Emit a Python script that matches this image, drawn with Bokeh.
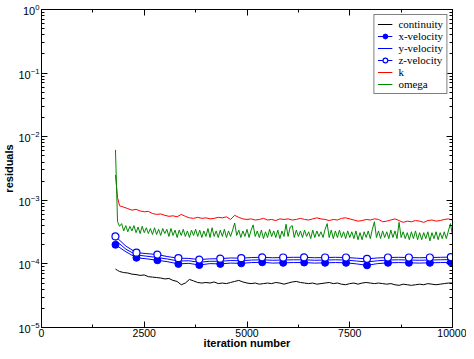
import numpy as np
from bokeh.plotting import figure
from bokeh.models import (LogAxis, LinearAxis, FixedTicker, Legend, LegendItem,
                          CustomJSTickFormatter, LogTickFormatter, Range1d)
from bokeh.embed import file_html
from bokeh.resources import INLINE

# ---------------- data ----------------
it_main = [1800, 1850, 1900] + list(range(2000, 10001, 100))
it_omega = list(range(1800, 10001, 50))
it_vel = list(range(1800, 9961, 255)) + [10000]

continuity = [
    8.3e-5, 7.9e-5, 7.6e-5,
    7.3e-5, 7.2e-5, 6.9e-5, 6.8e-5, 6.6e-5, 6.7e-5, 6.3e-5, 6.2e-5, 6.1e-5, 6.0e-5,
    5.8e-5, 5.9e-5, 5.5e-5, 5.3e-5, 4.7e-5, 5.0e-5, 5.7e-5, 5.4e-5, 5.1e-5, 5.0e-5,
    5.1e-5, 5.0e-5, 5.2e-5, 4.9e-5, 5.0e-5, 4.9e-5, 5.1e-5, 5.3e-5, 5.5e-5, 5.2e-5,
    5.0e-5, 4.9e-5, 5.0e-5, 4.8e-5, 4.9e-5, 5.0e-5, 4.9e-5, 5.1e-5, 5.0e-5, 4.8e-5,
    5.0e-5, 5.2e-5, 5.3e-5, 5.1e-5, 5.0e-5, 4.9e-5, 5.0e-5, 4.8e-5, 4.9e-5, 5.0e-5,
    5.1e-5, 4.9e-5, 5.0e-5, 4.8e-5, 4.7e-5, 4.9e-5, 5.0e-5, 4.8e-5, 5.0e-5, 5.1e-5,
    5.0e-5, 4.9e-5, 5.0e-5, 4.9e-5, 4.8e-5, 4.9e-5, 4.7e-5, 4.6e-5, 4.8e-5, 4.7e-5,
    4.6e-5, 4.7e-5, 4.8e-5, 4.7e-5, 4.9e-5, 4.8e-5, 4.7e-5, 4.8e-5, 4.9e-5, 5.0e-5,
    5.0e-5,
]

k_res = [
    2.5e-3, 1.1e-3, 8.2e-4,
    7.8e-4, 7.4e-4, 7.0e-4, 7.2e-4, 6.8e-4, 6.6e-4, 6.7e-4, 6.2e-4, 6.0e-4, 6.1e-4,
    5.8e-4, 5.6e-4, 5.7e-4, 5.5e-4, 6.0e-4, 5.6e-4, 5.3e-4, 5.2e-4, 5.4e-4, 5.2e-4,
    5.3e-4, 5.1e-4, 5.2e-4, 5.4e-4, 5.3e-4, 5.5e-4, 5.0e-4, 5.8e-4, 5.4e-4, 5.1e-4,
    5.0e-4, 5.1e-4, 4.9e-4, 5.0e-4, 5.2e-4, 4.9e-4, 5.0e-4, 4.8e-4, 5.1e-4, 5.0e-4,
    5.1e-4, 4.9e-4, 5.0e-4, 5.2e-4, 5.0e-4, 4.9e-4, 5.1e-4, 5.3e-4, 5.1e-4, 5.0e-4,
    4.8e-4, 5.0e-4, 4.9e-4, 5.2e-4, 5.3e-4, 5.1e-4, 4.9e-4, 4.7e-4, 4.8e-4, 5.0e-4,
    4.9e-4, 5.1e-4, 5.0e-4, 4.6e-4, 4.7e-4, 4.9e-4, 5.1e-4, 4.8e-4, 4.5e-4, 4.7e-4,
    4.6e-4, 4.8e-4, 4.7e-4, 4.5e-4, 4.8e-4, 4.9e-4, 4.7e-4, 4.8e-4, 5.0e-4, 5.1e-4,
    4.9e-4,
]

omega = [
    6.2e-3, 4.6e-4, 3.9e-4, 4.3e-4, 3.3e-4, 4.0e-4, 3.2e-4, 3.9e-4, 3.3e-4, 4.0e-4,
    3.1e-4, 3.8e-4, 3.0e-4, 3.9e-4, 3.1e-4, 3.7e-4, 3.0e-4, 3.6e-4, 2.9e-4, 3.7e-4,
    2.9e-4, 3.5e-4, 2.8e-4, 3.6e-4, 3.0e-4, 3.5e-4, 2.7e-4, 3.6e-4, 2.8e-4, 3.4e-4,
    2.6e-4, 3.4e-4, 2.8e-4, 3.5e-4, 2.7e-4, 3.3e-4, 2.6e-4, 3.4e-4, 2.8e-4, 3.5e-4,
    2.7e-4, 3.4e-4, 2.6e-4, 3.3e-4, 2.7e-4, 3.6e-4, 2.6e-4, 3.7e-4, 2.7e-4, 3.3e-4,
    2.6e-4, 3.4e-4, 2.7e-4, 3.5e-4, 2.6e-4, 3.3e-4, 2.7e-4, 3.4e-4, 4.4e-4, 2.8e-4,
    3.4e-4, 2.6e-4, 3.3e-4, 2.7e-4, 3.5e-4, 2.6e-4, 3.4e-4, 4.1e-4, 2.7e-4, 3.3e-4,
    2.6e-4, 3.4e-4, 2.5e-4, 3.2e-4, 2.6e-4, 3.5e-4, 2.7e-4, 3.3e-4, 2.6e-4, 3.4e-4,
    2.5e-4, 3.3e-4, 2.7e-4, 4.2e-4, 2.7e-4, 3.8e-4, 4.0e-4, 2.6e-4, 3.4e-4, 2.7e-4,
    3.3e-4, 2.6e-4, 3.4e-4, 2.7e-4, 3.2e-4, 2.5e-4, 3.4e-4, 2.6e-4, 3.3e-4, 2.7e-4,
    3.2e-4, 2.6e-4, 3.5e-4, 4.3e-4, 2.6e-4, 3.4e-4, 2.5e-4, 3.3e-4, 2.6e-4, 3.4e-4,
    2.6e-4, 3.2e-4, 2.5e-4, 3.3e-4, 2.6e-4, 3.2e-4, 2.5e-4, 3.3e-4, 2.4e-4, 3.1e-4,
    2.4e-4, 3.2e-4, 2.6e-4, 3.3e-4, 2.5e-4, 3.5e-4, 4.6e-4, 2.6e-4, 3.3e-4, 2.5e-4,
    3.3e-4, 2.6e-4, 3.2e-4, 2.5e-4, 3.4e-4, 2.6e-4, 3.3e-4, 2.5e-4, 4.5e-4, 2.6e-4,
    3.2e-4, 2.5e-4, 3.1e-4, 2.4e-4, 3.2e-4, 2.5e-4, 3.3e-4, 2.4e-4, 3.1e-4, 2.4e-4,
    3.1e-4, 2.5e-4, 3.2e-4, 2.3e-4, 3.1e-4, 2.5e-4, 3.2e-4, 2.4e-4, 3.1e-4, 2.5e-4,
    3.2e-4, 2.5e-4, 3.3e-4, 4.3e-4, 2.8e-4,
]

x_vel = [
    2.0e-4, 1.55e-4, 1.25e-4, 1.2e-4, 1.14e-4, 1.08e-4, 1.0e-4, 1.02e-4, 0.96e-4, 1.01e-4,
    1.0e-4, 1.03e-4, 1.02e-4, 1.05e-4, 1.06e-4, 1.03e-4, 1.04e-4, 1.05e-4, 1.05e-4, 1.03e-4,
    1.04e-4, 1.05e-4, 1.04e-4, 1.0e-4, 0.95e-4, 1.01e-4, 1.04e-4, 1.05e-4, 1.04e-4, 1.03e-4,
    1.04e-4, 1.05e-4, 1.06e-4, 1.06e-4,
]
y_vel = [
    2.35e-4, 1.7e-4, 1.38e-4, 1.32e-4, 1.26e-4, 1.19e-4, 1.11e-4, 1.12e-4, 1.06e-4, 1.1e-4,
    1.1e-4, 1.13e-4, 1.12e-4, 1.15e-4, 1.16e-4, 1.14e-4, 1.15e-4, 1.16e-4, 1.16e-4, 1.14e-4,
    1.15e-4, 1.16e-4, 1.15e-4, 1.11e-4, 1.07e-4, 1.12e-4, 1.15e-4, 1.16e-4, 1.15e-4, 1.14e-4,
    1.15e-4, 1.16e-4, 1.17e-4, 1.17e-4,
]
z_vel = [
    2.7e-4, 1.9e-4, 1.5e-4, 1.45e-4, 1.4e-4, 1.3e-4, 1.23e-4, 1.22e-4, 1.17e-4, 1.2e-4,
    1.21e-4, 1.24e-4, 1.23e-4, 1.26e-4, 1.27e-4, 1.25e-4, 1.26e-4, 1.27e-4, 1.27e-4, 1.25e-4,
    1.26e-4, 1.27e-4, 1.26e-4, 1.23e-4, 1.2e-4, 1.24e-4, 1.26e-4, 1.27e-4, 1.26e-4, 1.25e-4,
    1.26e-4, 1.27e-4, 1.28e-4, 1.28e-4,
]

series_labels = ["continuity", "x-velocity", "y-velocity", "z-velocity", "k", "omega"]

x_ticks = [0, 2500, 5000, 7500, 10000]
x_minor = [1250, 3750, 6250, 8750]
y_ticks = [1e-5, 1e-4, 1e-3, 1e-2, 1e-1, 1e0]
y_minor = [m * t for t in y_ticks[:-1] for m in range(2, 10)]

# ---------------- figure ----------------
p = figure(width=466, height=351, x_range=Range1d(0, 10000), y_range=Range1d(1e-5, 1),
           y_axis_type="log", output_backend="svg", toolbar_location=None,
           min_border_left=36, min_border_top=9, min_border_right=14, min_border_bottom=10)
p.background_fill_color = "white"
p.border_fill_color = "white"
p.outline_line_color = "black"
p.outline_line_width = 1
p.outline_line_alpha = 1
p.grid.visible = False

LBL_FONT = "Liberation Sans"

def style_axis(ax, show_labels=True):
    ax.major_tick_in = 6
    ax.major_tick_out = 0
    ax.minor_tick_in = 3
    ax.minor_tick_out = 0
    ax.major_tick_line_color = "black"
    ax.minor_tick_line_color = "black"
    ax.axis_line_color = "black"
    ax.major_label_text_font = LBL_FONT
    ax.major_label_text_font_size = "11px"
    ax.major_label_text_color = "black"
    ax.axis_label_text_font = LBL_FONT
    ax.axis_label_text_font_size = "11px"
    ax.axis_label_text_font_style = "bold"
    ax.axis_label_text_color = "black"
    if not show_labels:
        ax.formatter = CustomJSTickFormatter(code="return '';")
        ax.major_label_text_font_size = "0px"
        ax.major_label_standoff = 0

xa = p.xaxis[0]
ya = p.yaxis[0]
xa.ticker = FixedTicker(ticks=x_ticks, minor_ticks=x_minor)
ya.ticker = FixedTicker(ticks=y_ticks, minor_ticks=y_minor)
ya.formatter = LogTickFormatter()
style_axis(xa)
style_axis(ya)
xa.major_label_text_font_size = "10.5px"
xa.major_label_standoff = 1
ya.major_label_standoff = 2
xa.axis_label = "iteration number"
ya.axis_label = "residuals"
xa.axis_label_standoff = -3
ya.axis_label_standoff = 0

top = LinearAxis(ticker=FixedTicker(ticks=x_ticks, minor_ticks=x_minor))
style_axis(top, show_labels=False)
p.add_layout(top, "above")
right = LogAxis(ticker=FixedTicker(ticks=y_ticks, minor_ticks=y_minor))
style_axis(right, show_labels=False)
p.add_layout(right, "right")

BLUE = "#0000ff"
LW = 1.0
r_c = p.line(it_main, continuity, line_color="black", line_width=LW)
r_xl = p.line(it_vel, x_vel, line_color=BLUE, line_width=LW)
r_xm = p.scatter(it_vel[::2], x_vel[::2], marker="circle", size=7,
                 fill_color=BLUE, line_color=BLUE)
r_y = p.line(it_vel, y_vel, line_color=BLUE, line_width=LW)
r_zl = p.line(it_vel, z_vel, line_color=BLUE, line_width=LW)
r_zm = p.scatter(it_vel[::2], z_vel[::2], marker="circle", size=7,
                 fill_color="white", line_color=BLUE, line_width=1.2)
r_k = p.line(it_main, k_res, line_color="#ff0000", line_width=LW)
r_o = p.line(it_omega, omega, line_color="#008a00", line_width=LW)

legend = Legend(items=[
    LegendItem(label=series_labels[0], renderers=[r_c]),
    LegendItem(label=series_labels[1], renderers=[r_xl, r_xm]),
    LegendItem(label=series_labels[2], renderers=[r_y]),
    LegendItem(label=series_labels[3], renderers=[r_zl, r_zm]),
    LegendItem(label=series_labels[4], renderers=[r_k]),
    LegendItem(label=series_labels[5], renderers=[r_o]),
], location="top_right", margin=5, padding=3, spacing=0,
    glyph_width=15, glyph_height=12, label_height=12, label_standoff=6,
    label_text_font="Liberation Serif", label_text_font_size="11px",
    label_text_color="black", border_line_color="black", border_line_width=1,
    background_fill_color="white", background_fill_alpha=1)
p.add_layout(legend)

open("out.html", "w").write(file_html(p, INLINE))
